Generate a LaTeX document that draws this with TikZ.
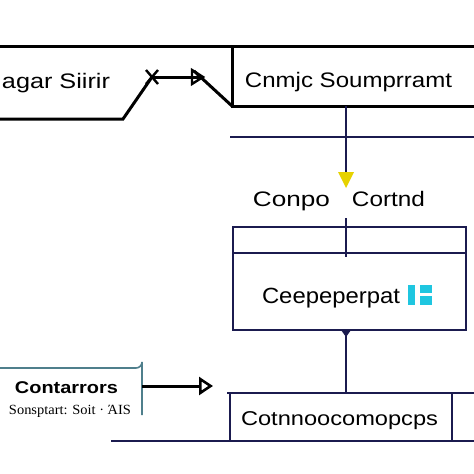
\documentclass[tikz,border=0pt]{standalone}
\usepackage{fontspec}
\setmainfont{Liberation Sans}
\newfontfamily\serifb{Liberation Serif}
\usetikzlibrary{arrows.meta}
\definecolor{navy}{HTML}{1B1B4F}
\definecolor{tealb}{HTML}{4F7F8C}
\definecolor{ylw}{HTML}{E6D200}
\definecolor{cyanic}{HTML}{1FC6E0}
\newcommand{\fitw}[3]{\resizebox{#1pt}{\height}{\fontsize{#2}{#2}\selectfont #3}}
\tikzset{
  lbl/.style={inner sep=0pt, anchor=base, text=black},
  blk/.style={line width=3pt, black},
  nv/.style={line width=2.6pt, navy},
}
\begin{document}
\begin{tikzpicture}[x=1pt,y=-1pt]
\useasboundingbox (0,0) rectangle (474,474);
\fill[white] (0,0) rectangle (474,474);
% coordinates
\coordinate (tl) at (0,46);
\coordinate (tr) at (474,46);
\coordinate (lb0) at (0,119);
\coordinate (lb1) at (123,119);
\coordinate (ax0) at (152,77);
\coordinate (ax1) at (200,77);
\coordinate (rb0) at (232,46);
\coordinate (rb1) at (232,106);
\coordinate (rb2) at (474,106);
% top black lines
\draw[blk] (tl) -- (tr);
\draw[blk, line join=miter] (lb0) -- (lb1) -- (ax0);
\draw[blk] (ax0) -- (ax1);
\draw[line width=2.4pt] (ax1) ++(-8,-7) -- ++(0,14) -- ++(11,-7) -- cycle;
\draw[line width=2.4pt] (ax0) ++(-6,-7) -- ++(12,14);
\draw[line width=2.4pt] (ax0) ++(-6,7) -- ++(12,-14);
\draw[blk] (ax1) ++(-6,-6) -- (rb1);
\draw[blk] (rb0) -- (rb1) -- (rb2);
% texts top
\node[lbl] (t1) at (56,88) {\fitw{108}{21}{agar Siirir}};
\node[lbl] (t2) at (348.5,87) {\fitw{207}{21}{Cnmjc Soumprramt}};
% navy middle
\coordinate (v0) at (346,106);
\coordinate (v1) at (346,172);
\coordinate (h0) at (230,137);
\coordinate (h1) at (474,137);
\draw[nv] (v0) -- (v1);
\draw[nv] (h0) -- (h1);
\fill[ylw] (338,172) -- (354,172) -- (346,188) -- cycle;
\node[lbl] (t3) at (291.5,206) {\fitw{77}{21}{Conpo}};
\node[lbl] (t4) at (388.5,206) {\fitw{73}{21}{Cortnd}};
% box
\node[draw=navy, line width=2.8pt, minimum width=233pt, minimum height=103pt, inner sep=0pt] (box) at (349.5,278.5) {};
\coordinate (bi0) at (233,253);
\coordinate (bi1) at (466,253);
\draw[nv] (bi0) -- (bi1);
\coordinate (s0) at (346,218);
\coordinate (s1) at (346,257);
\draw[nv] (s0) -- (s1);
\node[lbl] (t5) at (331,303) {\fitw{138}{22}{Ceepeperpat}};
\fill[cyanic] (408,285) rectangle (415,305);
\fill[cyanic] (420,285) rectangle (432,293);
\fill[cyanic] (420,296) rectangle (432,305);
% lower connector
\coordinate (d0) at (346,330);
\coordinate (d1) at (346,393);
\draw[nv] (d0) -- (d1);
\fill[navy] (341,330) -- (351,330) -- (346,337) -- cycle;
% bottom box
\coordinate (bt0) at (227,393);
\coordinate (bt1) at (474,393);
\coordinate (bb0) at (111,441);
\coordinate (bb1) at (474,441);
\draw[nv] (bt0) -- (bt1);
\draw[nv] (bb0) -- (bb1);
\coordinate (bl0) at (230,393);
\coordinate (bl1) at (230,441);
\coordinate (br0) at (452,393);
\coordinate (br1) at (452,441);
\draw[nv] (bl0) -- (bl1);
\draw[nv] (br0) -- (br1);
\node[lbl] (t6) at (339.5,425) {\fitw{197}{20}{Cotnnoocomopcps}};
% left rounded box
\draw[tealb, line width=1.6pt] (-5,368) -- (136,368) arc[start angle=90, end angle=0, radius=6] -- (142,415);
\node[lbl] (t7) at (66.5,393) {\fitw{103}{17}{\bfseries Contarrors}};
\node[lbl] (t8) at (70,414) {\fitw{122}{14}{\serifb Sonsptart: Soit · ΆIS}};
\coordinate (la0) at (142,386);
\coordinate (la1) at (213,386);
\draw[line width=3pt, -{Triangle[open, length=14pt, width=18pt, line width=2.6pt]}] (la0) -- (la1);
\end{tikzpicture}
\end{document}
